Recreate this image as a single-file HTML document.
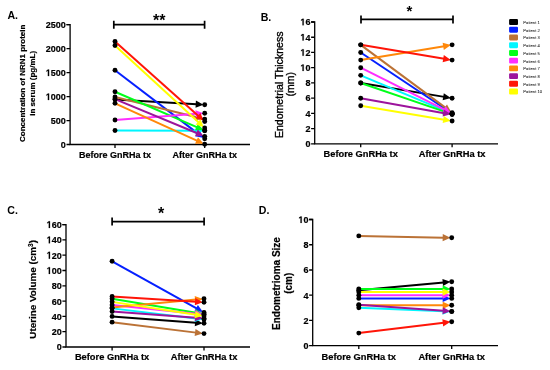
<!DOCTYPE html>
<html><head><meta charset="utf-8"><style>
html,body{margin:0;padding:0;background:#fff;width:550px;height:370px;overflow:hidden}
svg{display:block;filter:blur(0.45px)}
text{font-family:"Liberation Sans", sans-serif;fill:#000}
.tk{font-weight:bold;stroke:#000;stroke-width:0.2px}
.tk path{fill:#000;stroke:#000;stroke-width:0.2px;vector-effect:non-scaling-stroke}
.xl{font-weight:bold;font-size:9px;stroke:#000;stroke-width:0.2px}
.yl{font-weight:bold;stroke:#000;stroke-width:0.2px}
.pl{font-weight:bold;font-size:10.6px}
.lg{font-size:4.2px;fill:#1a1a1a;stroke:#1a1a1a;stroke-width:0.04px}
</style></head><body>
<svg width="550" height="370" viewBox="0 0 550 370">
<rect width="550" height="370" fill="#fff"/>
<text x="7.4" y="19.2" class="pl">A.</text>
<text x="260.7" y="20.7" class="pl">B.</text>
<text x="7.3" y="214.2" class="pl">C.</text>
<text x="258.8" y="214.3" class="pl">D.</text>
<text transform="translate(25.2 83.3) rotate(-90)" text-anchor="middle" class="yl" style="font-size:8px">Concentration of NRN1 protein</text>
<text transform="translate(34.6 83.4) rotate(-90)" text-anchor="middle" class="yl" style="font-size:8px">in serum (pg/mL)</text>
<text transform="translate(282.8 84.8) rotate(-90)" text-anchor="middle" style="font-size:10.55px;stroke:#000;stroke-width:0.35px">Endometrial Thickness</text>
<text transform="translate(294.4 84.3) rotate(-90)" text-anchor="middle" style="font-size:10.45px;stroke:#000;stroke-width:0.35px">(mm)</text>
<text transform="translate(36.2 289.4) rotate(-90)" text-anchor="middle" class="yl" style="font-size:9.85px">Uterine Volume (cm<tspan dy="-3.3" style="font-size:6.5px">3</tspan><tspan dy="3.3">)</tspan></text>
<text transform="translate(279.8 283.5) rotate(-90)" text-anchor="middle" class="yl" style="font-size:10px">Endometrioma Size</text>
<text transform="translate(292 283.3) rotate(-90)" text-anchor="middle" class="yl" style="font-size:10px">(cm)</text>
<path d="M66.5 24.7H70.1V144.5H250" fill="none" stroke="#000" stroke-width="1.3" stroke-linejoin="miter"/>
<g transform="translate(65.8 144.50) scale(1 1.05)" class="tk" style="font-size:9.0px"><text x="-5.005" y="3.32">0</text></g>
<g transform="translate(65.8 120.54) scale(1 1.05)" class="tk" style="font-size:9.0px"><text x="-15.016" y="3.32">500</text></g>
<g transform="translate(65.8 96.58) scale(1 1.05)" class="tk" style="font-size:9.0px"><path transform="translate(-20.021 3.32) scale(0.00439 -0.00439)" d="M478 0L478 1170L140 959L140 1180L493 1409L759 1409L759 0Z"/><text x="-15.016" y="3.32">000</text></g>
<g transform="translate(65.8 72.62) scale(1 1.05)" class="tk" style="font-size:9.0px"><path transform="translate(-20.021 3.32) scale(0.00439 -0.00439)" d="M478 0L478 1170L140 959L140 1180L493 1409L759 1409L759 0Z"/><text x="-15.016" y="3.32">500</text></g>
<g transform="translate(65.8 48.66) scale(1 1.05)" class="tk" style="font-size:9.0px"><text x="-20.021" y="3.32">2000</text></g>
<g transform="translate(65.8 24.70) scale(1 1.05)" class="tk" style="font-size:9.0px"><text x="-20.021" y="3.32">2500</text></g>
<path d="M66.5 144.50H70.1M66.5 120.54H70.1M66.5 96.58H70.1M66.5 72.62H70.1M66.5 48.66H70.1M66.5 24.70H70.1M115 144.5V147.9M204.7 144.5V147.9" stroke="#000" stroke-width="1.3" fill="none"/>
<text x="115" y="157.5" text-anchor="middle" class="xl" style="font-size:9.0px">Before GnRHa tx</text>
<text x="204.7" y="157.5" text-anchor="middle" class="xl" style="font-size:9.0px">After GnRHa tx</text>
<line x1="115.00" y1="99.46" x2="196.71" y2="104.26" stroke="#000000" stroke-width="2.0"/>
<path d="M203.50 104.66L195.50 107.79L195.93 100.60Z" fill="#000000"/>
<line x1="115.00" y1="70.22" x2="198.34" y2="133.89" stroke="#0520ff" stroke-width="2.0"/>
<path d="M203.75 138.02L195.36 136.15L199.73 130.43Z" fill="#0520ff"/>
<line x1="115.00" y1="97.06" x2="196.93" y2="117.19" stroke="#bb7236" stroke-width="2.0"/>
<path d="M203.53 118.82L195.10 120.45L196.82 113.46Z" fill="#bb7236"/>
<line x1="115.00" y1="130.51" x2="196.70" y2="130.81" stroke="#00f6ff" stroke-width="2.0"/>
<path d="M203.50 130.84L195.69 134.41L195.71 127.21Z" fill="#00f6ff"/>
<line x1="115.00" y1="91.79" x2="197.36" y2="127.34" stroke="#00ff1a" stroke-width="2.0"/>
<path d="M203.60 130.03L195.01 130.25L197.86 123.64Z" fill="#00ff1a"/>
<line x1="115.00" y1="120.06" x2="196.72" y2="113.82" stroke="#ff2eff" stroke-width="2.0"/>
<path d="M203.50 113.30L196.00 117.48L195.45 110.30Z" fill="#ff2eff"/>
<line x1="115.00" y1="103.29" x2="197.42" y2="140.94" stroke="#ff880a" stroke-width="2.0"/>
<path d="M203.61 143.76L195.02 143.80L198.01 137.25Z" fill="#ff880a"/>
<line x1="115.00" y1="99.07" x2="197.31" y2="133.28" stroke="#9c149c" stroke-width="2.0"/>
<path d="M203.59 135.89L195.01 136.22L197.77 129.58Z" fill="#9c149c"/>
<line x1="115.00" y1="41.47" x2="198.73" y2="116.26" stroke="#ff1508" stroke-width="2.0"/>
<path d="M203.81 120.79L195.59 118.28L200.39 112.91Z" fill="#ff1508"/>
<line x1="115.00" y1="45.55" x2="198.81" y2="122.55" stroke="#ffff00" stroke-width="2.0"/>
<path d="M203.82 127.16L195.64 124.53L200.51 119.23Z" fill="#ffff00"/>
<g fill="#000"><circle cx="115" cy="99.46" r="2.45"/><circle cx="204.7" cy="104.73" r="2.45"/><circle cx="115" cy="70.22" r="2.45"/><circle cx="204.7" cy="138.75" r="2.45"/><circle cx="115" cy="97.06" r="2.45"/><circle cx="204.7" cy="119.10" r="2.45"/><circle cx="115" cy="130.51" r="2.45"/><circle cx="204.7" cy="130.84" r="2.45"/><circle cx="115" cy="91.79" r="2.45"/><circle cx="204.7" cy="130.51" r="2.45"/><circle cx="115" cy="120.06" r="2.45"/><circle cx="204.7" cy="113.21" r="2.45"/><circle cx="115" cy="103.29" r="2.45"/><circle cx="204.7" cy="144.26" r="2.45"/><circle cx="115" cy="99.07" r="2.45"/><circle cx="204.7" cy="136.35" r="2.45"/><circle cx="115" cy="41.47" r="2.45"/><circle cx="204.7" cy="121.59" r="2.45"/><circle cx="115" cy="45.55" r="2.45"/><circle cx="204.7" cy="127.97" r="2.45"/></g>
<path d="M113.8 20.7V28.7M113.8 24.7H204.6M204.6 20.7V28.7" stroke="#000" stroke-width="1.7" fill="none"/>
<text x="159.35" y="26.1" text-anchor="middle" style="font-size:16px;font-weight:bold">**</text>
<path d="M311.09999999999997 22.0H314.7V143.9H498" fill="none" stroke="#000" stroke-width="1.3" stroke-linejoin="miter"/>
<g transform="translate(310.4 143.90) scale(1 1.05)" class="tk" style="font-size:9.0px"><text x="-5.005" y="3.13">0</text></g>
<g transform="translate(310.4 128.66) scale(1 1.05)" class="tk" style="font-size:9.0px"><text x="-5.005" y="3.13">2</text></g>
<g transform="translate(310.4 113.43) scale(1 1.05)" class="tk" style="font-size:9.0px"><text x="-5.005" y="3.13">4</text></g>
<g transform="translate(310.4 98.19) scale(1 1.05)" class="tk" style="font-size:9.0px"><text x="-5.005" y="3.13">6</text></g>
<g transform="translate(310.4 82.95) scale(1 1.05)" class="tk" style="font-size:9.0px"><text x="-5.005" y="3.13">8</text></g>
<g transform="translate(310.4 67.71) scale(1 1.05)" class="tk" style="font-size:9.0px"><path transform="translate(-10.011 3.13) scale(0.00439 -0.00439)" d="M478 0L478 1170L140 959L140 1180L493 1409L759 1409L759 0Z"/><text x="-5.005" y="3.13">0</text></g>
<g transform="translate(310.4 52.47) scale(1 1.05)" class="tk" style="font-size:9.0px"><path transform="translate(-10.011 3.13) scale(0.00439 -0.00439)" d="M478 0L478 1170L140 959L140 1180L493 1409L759 1409L759 0Z"/><text x="-5.005" y="3.13">2</text></g>
<g transform="translate(310.4 37.24) scale(1 1.05)" class="tk" style="font-size:9.0px"><path transform="translate(-10.011 3.13) scale(0.00439 -0.00439)" d="M478 0L478 1170L140 959L140 1180L493 1409L759 1409L759 0Z"/><text x="-5.005" y="3.13">4</text></g>
<g transform="translate(310.4 22.00) scale(1 1.05)" class="tk" style="font-size:9.0px"><path transform="translate(-10.011 3.13) scale(0.00439 -0.00439)" d="M478 0L478 1170L140 959L140 1180L493 1409L759 1409L759 0Z"/><text x="-5.005" y="3.13">6</text></g>
<path d="M311.09999999999997 143.90H314.7M311.09999999999997 128.66H314.7M311.09999999999997 113.43H314.7M311.09999999999997 98.19H314.7M311.09999999999997 82.95H314.7M311.09999999999997 67.71H314.7M311.09999999999997 52.47H314.7M311.09999999999997 37.24H314.7M311.09999999999997 22.00H314.7M360.7 143.9V147.3M452.1 143.9V147.3" stroke="#000" stroke-width="1.3" fill="none"/>
<text x="360.7" y="156.9" text-anchor="middle" class="xl" style="font-size:9.3px">Before GnRHa tx</text>
<text x="452.1" y="156.9" text-anchor="middle" class="xl" style="font-size:9.3px">After GnRHa tx</text>
<line x1="360.70" y1="82.95" x2="444.21" y2="96.87" stroke="#000000" stroke-width="2.0"/>
<path d="M450.92 97.99L442.63 100.26L443.81 93.16Z" fill="#000000"/>
<line x1="360.70" y1="52.47" x2="445.44" y2="108.99" stroke="#0520ff" stroke-width="2.0"/>
<path d="M451.10 112.76L442.61 111.43L446.61 105.44Z" fill="#0520ff"/>
<line x1="360.70" y1="44.86" x2="445.68" y2="107.90" stroke="#bb7236" stroke-width="2.0"/>
<path d="M451.14 111.95L442.73 110.19L447.02 104.41Z" fill="#bb7236"/>
<line x1="360.70" y1="75.33" x2="444.73" y2="110.70" stroke="#00f6ff" stroke-width="2.0"/>
<path d="M450.99 113.34L442.41 113.63L445.20 107.00Z" fill="#00f6ff"/>
<line x1="360.70" y1="82.95" x2="444.53" y2="111.60" stroke="#00ff1a" stroke-width="2.0"/>
<path d="M450.96 113.80L442.42 114.68L444.75 107.87Z" fill="#00ff1a"/>
<line x1="360.70" y1="67.71" x2="444.94" y2="109.85" stroke="#ff2eff" stroke-width="2.0"/>
<path d="M451.03 112.89L442.44 112.62L445.66 106.18Z" fill="#ff2eff"/>
<line x1="360.70" y1="60.09" x2="444.21" y2="46.17" stroke="#ff880a" stroke-width="2.0"/>
<path d="M450.92 45.05L443.81 49.89L442.63 42.79Z" fill="#ff880a"/>
<line x1="360.70" y1="98.19" x2="444.23" y2="113.16" stroke="#9c149c" stroke-width="2.0"/>
<path d="M450.92 114.36L442.61 116.52L443.88 109.44Z" fill="#9c149c"/>
<line x1="360.70" y1="44.86" x2="444.21" y2="58.78" stroke="#ff1508" stroke-width="2.0"/>
<path d="M450.92 59.90L442.63 62.16L443.81 55.06Z" fill="#ff1508"/>
<line x1="360.70" y1="105.81" x2="444.21" y2="119.73" stroke="#ffff00" stroke-width="2.0"/>
<path d="M450.92 120.85L442.63 123.11L443.81 116.01Z" fill="#ffff00"/>
<g fill="#000"><circle cx="360.7" cy="82.95" r="2.45"/><circle cx="452.1" cy="98.19" r="2.45"/><circle cx="360.7" cy="52.47" r="2.45"/><circle cx="452.1" cy="113.43" r="2.45"/><circle cx="360.7" cy="44.86" r="2.45"/><circle cx="452.1" cy="112.66" r="2.45"/><circle cx="360.7" cy="75.33" r="2.45"/><circle cx="452.1" cy="113.81" r="2.45"/><circle cx="360.7" cy="82.95" r="2.45"/><circle cx="452.1" cy="114.19" r="2.45"/><circle cx="360.7" cy="67.71" r="2.45"/><circle cx="452.1" cy="113.43" r="2.45"/><circle cx="360.7" cy="60.09" r="2.45"/><circle cx="452.1" cy="44.86" r="2.45"/><circle cx="360.7" cy="98.19" r="2.45"/><circle cx="452.1" cy="114.57" r="2.45"/><circle cx="360.7" cy="44.86" r="2.45"/><circle cx="452.1" cy="60.09" r="2.45"/><circle cx="360.7" cy="105.81" r="2.45"/><circle cx="452.1" cy="121.04" r="2.45"/></g>
<path d="M361 15.399999999999999V23.4M361 19.4H453M453 15.399999999999999V23.4" stroke="#000" stroke-width="1.7" fill="none"/>
<text x="409.5" y="16.1" text-anchor="middle" style="font-size:15px;font-weight:bold">*</text>
<path d="M62.4 224.6H66.0V347.0H250" fill="none" stroke="#000" stroke-width="1.3" stroke-linejoin="miter"/>
<g transform="translate(61.7 347.00) scale(1 1.1)" class="tk" style="font-size:9.0px"><text x="-5.005" y="3.13">0</text></g>
<g transform="translate(61.7 331.70) scale(1 1.1)" class="tk" style="font-size:9.0px"><text x="-10.011" y="3.13">20</text></g>
<g transform="translate(61.7 316.40) scale(1 1.1)" class="tk" style="font-size:9.0px"><text x="-10.011" y="3.13">40</text></g>
<g transform="translate(61.7 301.10) scale(1 1.1)" class="tk" style="font-size:9.0px"><text x="-10.011" y="3.13">60</text></g>
<g transform="translate(61.7 285.80) scale(1 1.1)" class="tk" style="font-size:9.0px"><text x="-10.011" y="3.13">80</text></g>
<g transform="translate(61.7 270.50) scale(1 1.1)" class="tk" style="font-size:9.0px"><path transform="translate(-15.016 3.13) scale(0.00439 -0.00439)" d="M478 0L478 1170L140 959L140 1180L493 1409L759 1409L759 0Z"/><text x="-10.011" y="3.13">00</text></g>
<g transform="translate(61.7 255.20) scale(1 1.1)" class="tk" style="font-size:9.0px"><path transform="translate(-15.016 3.13) scale(0.00439 -0.00439)" d="M478 0L478 1170L140 959L140 1180L493 1409L759 1409L759 0Z"/><text x="-10.011" y="3.13">20</text></g>
<g transform="translate(61.7 239.90) scale(1 1.1)" class="tk" style="font-size:9.0px"><path transform="translate(-15.016 3.13) scale(0.00439 -0.00439)" d="M478 0L478 1170L140 959L140 1180L493 1409L759 1409L759 0Z"/><text x="-10.011" y="3.13">40</text></g>
<g transform="translate(61.7 224.60) scale(1 1.1)" class="tk" style="font-size:9.0px"><path transform="translate(-15.016 3.13) scale(0.00439 -0.00439)" d="M478 0L478 1170L140 959L140 1180L493 1409L759 1409L759 0Z"/><text x="-10.011" y="3.13">60</text></g>
<path d="M62.4 347.00H66.0M62.4 331.70H66.0M62.4 316.40H66.0M62.4 301.10H66.0M62.4 285.80H66.0M62.4 270.50H66.0M62.4 255.20H66.0M62.4 239.90H66.0M62.4 224.60H66.0M112.1 347.0V350.4M204.0 347.0V350.4" stroke="#000" stroke-width="1.3" fill="none"/>
<text x="112.1" y="360.0" text-anchor="middle" class="xl" style="font-size:9.3px">Before GnRHa tx</text>
<text x="204.0" y="360.0" text-anchor="middle" class="xl" style="font-size:9.3px">After GnRHa tx</text>
<line x1="112.10" y1="316.40" x2="196.02" y2="322.69" stroke="#000000" stroke-width="2.0"/>
<path d="M202.80 323.20L194.76 326.20L195.29 319.02Z" fill="#000000"/>
<line x1="112.10" y1="261.32" x2="197.01" y2="308.68" stroke="#0520ff" stroke-width="2.0"/>
<path d="M202.95 311.99L194.39 311.34L197.89 305.05Z" fill="#0520ff"/>
<line x1="112.10" y1="322.14" x2="196.06" y2="332.62" stroke="#bb7236" stroke-width="2.0"/>
<path d="M202.81 333.46L194.62 336.07L195.52 328.93Z" fill="#bb7236"/>
<line x1="112.10" y1="308.37" x2="196.06" y2="318.50" stroke="#00f6ff" stroke-width="2.0"/>
<path d="M202.81 319.32L194.63 321.96L195.50 314.81Z" fill="#00f6ff"/>
<line x1="112.10" y1="298.81" x2="196.11" y2="312.79" stroke="#00ff1a" stroke-width="2.0"/>
<path d="M202.82 313.91L194.53 316.18L195.71 309.08Z" fill="#00ff1a"/>
<line x1="112.10" y1="304.93" x2="196.04" y2="313.66" stroke="#ff2eff" stroke-width="2.0"/>
<path d="M202.81 314.36L194.68 317.14L195.42 309.98Z" fill="#ff2eff"/>
<line x1="112.10" y1="307.60" x2="196.04" y2="299.57" stroke="#ff880a" stroke-width="2.0"/>
<path d="M202.81 298.92L195.38 303.25L194.70 296.08Z" fill="#ff880a"/>
<line x1="112.10" y1="311.43" x2="196.02" y2="317.71" stroke="#9c149c" stroke-width="2.0"/>
<path d="M202.80 318.22L194.76 321.23L195.29 314.05Z" fill="#9c149c"/>
<line x1="112.10" y1="296.51" x2="196.02" y2="301.75" stroke="#ff1508" stroke-width="2.0"/>
<path d="M202.80 302.17L194.79 305.28L195.24 298.09Z" fill="#ff1508"/>
<line x1="112.10" y1="301.87" x2="196.09" y2="314.80" stroke="#ffff00" stroke-width="2.0"/>
<path d="M202.81 315.83L194.56 318.21L195.65 311.09Z" fill="#ffff00"/>
<g fill="#000"><circle cx="112.1" cy="316.40" r="2.45"/><circle cx="204.0" cy="323.29" r="2.45"/><circle cx="112.1" cy="261.32" r="2.45"/><circle cx="204.0" cy="312.57" r="2.45"/><circle cx="112.1" cy="322.14" r="2.45"/><circle cx="204.0" cy="333.61" r="2.45"/><circle cx="112.1" cy="308.37" r="2.45"/><circle cx="204.0" cy="319.46" r="2.45"/><circle cx="112.1" cy="298.81" r="2.45"/><circle cx="204.0" cy="314.11" r="2.45"/><circle cx="112.1" cy="304.93" r="2.45"/><circle cx="204.0" cy="314.49" r="2.45"/><circle cx="112.1" cy="307.60" r="2.45"/><circle cx="204.0" cy="298.81" r="2.45"/><circle cx="112.1" cy="311.43" r="2.45"/><circle cx="204.0" cy="318.31" r="2.45"/><circle cx="112.1" cy="296.51" r="2.45"/><circle cx="204.0" cy="302.25" r="2.45"/><circle cx="112.1" cy="301.87" r="2.45"/><circle cx="204.0" cy="316.02" r="2.45"/></g>
<path d="M112.1 217.6V225.6M112.1 221.6H204.1M204.1 217.6V225.6" stroke="#000" stroke-width="1.7" fill="none"/>
<text x="161.0" y="218.6" text-anchor="middle" style="font-size:16px;font-weight:bold">*</text>
<path d="M309.09999999999997 219.5H312.7V345.7H498" fill="none" stroke="#000" stroke-width="1.3" stroke-linejoin="miter"/>
<g transform="translate(308.4 345.70) scale(1 1.03)" class="tk" style="font-size:9.0px"><text x="-5.005" y="3.32">0</text></g>
<g transform="translate(308.4 320.46) scale(1 1.03)" class="tk" style="font-size:9.0px"><text x="-5.005" y="3.32">2</text></g>
<g transform="translate(308.4 295.22) scale(1 1.03)" class="tk" style="font-size:9.0px"><text x="-5.005" y="3.32">4</text></g>
<g transform="translate(308.4 269.98) scale(1 1.03)" class="tk" style="font-size:9.0px"><text x="-5.005" y="3.32">6</text></g>
<g transform="translate(308.4 244.74) scale(1 1.03)" class="tk" style="font-size:9.0px"><text x="-5.005" y="3.32">8</text></g>
<g transform="translate(308.4 219.50) scale(1 1.03)" class="tk" style="font-size:9.0px"><path transform="translate(-10.011 3.32) scale(0.00439 -0.00439)" d="M478 0L478 1170L140 959L140 1180L493 1409L759 1409L759 0Z"/><text x="-5.005" y="3.32">0</text></g>
<path d="M309.09999999999997 345.70H312.7M309.09999999999997 320.46H312.7M309.09999999999997 295.22H312.7M309.09999999999997 269.98H312.7M309.09999999999997 244.74H312.7M309.09999999999997 219.50H312.7M358.8 345.7V349.09999999999997M451.7 345.7V349.09999999999997" stroke="#000" stroke-width="1.3" fill="none"/>
<text x="358.8" y="359.5" text-anchor="middle" class="xl" style="font-size:9.3px">Before GnRHa tx</text>
<text x="451.7" y="359.5" text-anchor="middle" class="xl" style="font-size:9.3px">After GnRHa tx</text>
<line x1="358.80" y1="290.17" x2="443.73" y2="282.44" stroke="#000000" stroke-width="2.0"/>
<path d="M450.50 281.83L443.06 286.12L442.41 278.95Z" fill="#000000"/>
<line x1="358.80" y1="298.38" x2="443.70" y2="298.38" stroke="#0520ff" stroke-width="2.0"/>
<path d="M450.50 298.38L442.70 301.98L442.70 294.77Z" fill="#0520ff"/>
<line x1="358.80" y1="235.91" x2="443.70" y2="237.64" stroke="#bb7236" stroke-width="2.0"/>
<path d="M450.50 237.77L442.63 241.21L442.78 234.02Z" fill="#bb7236"/>
<line x1="358.80" y1="307.84" x2="443.71" y2="311.30" stroke="#00f6ff" stroke-width="2.0"/>
<path d="M450.50 311.58L442.56 314.86L442.85 307.66Z" fill="#00f6ff"/>
<line x1="358.80" y1="288.91" x2="443.70" y2="288.91" stroke="#00ff1a" stroke-width="2.0"/>
<path d="M450.50 288.91L442.70 292.51L442.70 285.31Z" fill="#00ff1a"/>
<line x1="358.80" y1="295.22" x2="443.70" y2="295.22" stroke="#ff2eff" stroke-width="2.0"/>
<path d="M450.50 295.22L442.70 298.82L442.70 291.62Z" fill="#ff2eff"/>
<line x1="358.80" y1="305.32" x2="443.70" y2="305.32" stroke="#ff880a" stroke-width="2.0"/>
<path d="M450.50 305.32L442.70 308.92L442.70 301.72Z" fill="#ff880a"/>
<line x1="358.80" y1="304.69" x2="443.72" y2="310.80" stroke="#9c149c" stroke-width="2.0"/>
<path d="M450.50 311.29L442.46 314.32L442.98 307.14Z" fill="#9c149c"/>
<line x1="358.80" y1="333.08" x2="443.76" y2="322.69" stroke="#ff1508" stroke-width="2.0"/>
<path d="M450.51 321.87L443.20 326.39L442.33 319.24Z" fill="#ff1508"/>
<line x1="358.80" y1="292.06" x2="443.70" y2="292.06" stroke="#ffff00" stroke-width="2.0"/>
<path d="M450.50 292.06L442.70 295.67L442.70 288.46Z" fill="#ffff00"/>
<g fill="#000"><circle cx="358.8" cy="290.17" r="2.45"/><circle cx="451.7" cy="281.72" r="2.45"/><circle cx="358.8" cy="298.38" r="2.45"/><circle cx="451.7" cy="298.38" r="2.45"/><circle cx="358.8" cy="235.91" r="2.45"/><circle cx="451.7" cy="237.80" r="2.45"/><circle cx="358.8" cy="307.84" r="2.45"/><circle cx="451.7" cy="311.63" r="2.45"/><circle cx="358.8" cy="288.91" r="2.45"/><circle cx="451.7" cy="288.91" r="2.45"/><circle cx="358.8" cy="295.22" r="2.45"/><circle cx="451.7" cy="295.22" r="2.45"/><circle cx="358.8" cy="305.32" r="2.45"/><circle cx="451.7" cy="305.32" r="2.45"/><circle cx="358.8" cy="304.69" r="2.45"/><circle cx="451.7" cy="311.37" r="2.45"/><circle cx="358.8" cy="333.08" r="2.45"/><circle cx="451.7" cy="321.72" r="2.45"/><circle cx="358.8" cy="292.06" r="2.45"/><circle cx="451.7" cy="292.06" r="2.45"/></g>
<rect x="509.1" y="19.10" width="8.9" height="5.9" rx="1.1" fill="#000000"/>
<text x="523.3" y="24.00" class="lg">Patient 1</text>
<rect x="509.1" y="26.82" width="8.9" height="5.9" rx="1.1" fill="#0520ff"/>
<text x="523.3" y="31.72" class="lg">Patient 2</text>
<rect x="509.1" y="34.54" width="8.9" height="5.9" rx="1.1" fill="#bb7236"/>
<text x="523.3" y="39.44" class="lg">Patient 3</text>
<rect x="509.1" y="42.26" width="8.9" height="5.9" rx="1.1" fill="#00f6ff"/>
<text x="523.3" y="47.16" class="lg">Patient 4</text>
<rect x="509.1" y="49.98" width="8.9" height="5.9" rx="1.1" fill="#00ff1a"/>
<text x="523.3" y="54.88" class="lg">Patient 5</text>
<rect x="509.1" y="57.70" width="8.9" height="5.9" rx="1.1" fill="#ff2eff"/>
<text x="523.3" y="62.60" class="lg">Patient 6</text>
<rect x="509.1" y="65.42" width="8.9" height="5.9" rx="1.1" fill="#ff880a"/>
<text x="523.3" y="70.32" class="lg">Patient 7</text>
<rect x="509.1" y="73.14" width="8.9" height="5.9" rx="1.1" fill="#9c149c"/>
<text x="523.3" y="78.04" class="lg">Patient 8</text>
<rect x="509.1" y="80.86" width="8.9" height="5.9" rx="1.1" fill="#ff1508"/>
<text x="523.3" y="85.76" class="lg">Patient 9</text>
<rect x="509.1" y="88.58" width="8.9" height="5.9" rx="1.1" fill="#ffff00"/>
<text x="523.3" y="93.48" class="lg">Patient 10</text>
</svg>
</body></html>
